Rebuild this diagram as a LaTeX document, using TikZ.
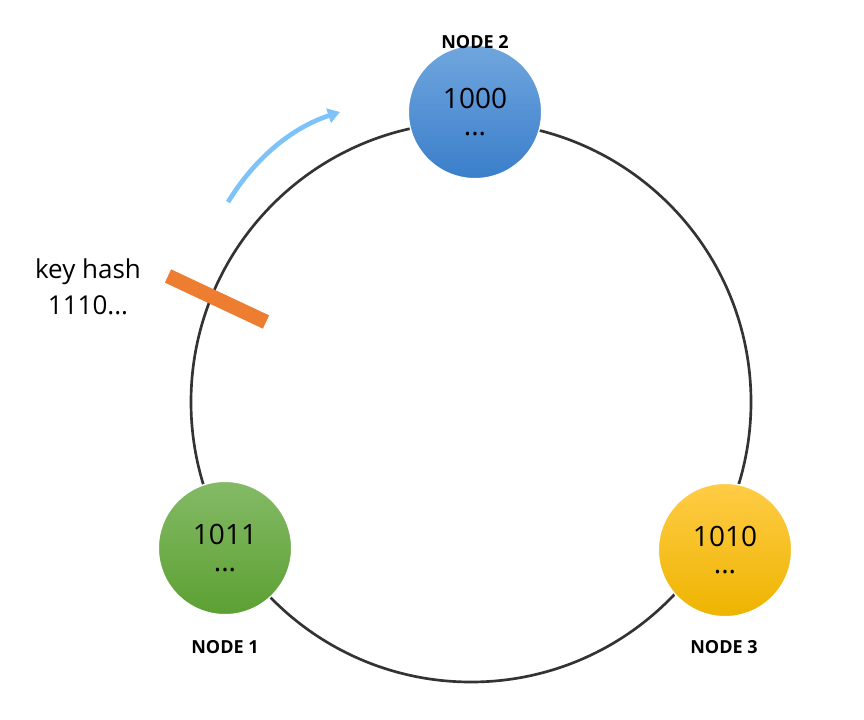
\documentclass[tikz,border=0pt]{standalone}
\usepackage{fontspec}
\setmainfont{Open Sans}
\usetikzlibrary{arrows.meta}
\definecolor{bT}{RGB}{112,166,222}\definecolor{bB}{RGB}{58,126,202}
\definecolor{gT}{RGB}{132,186,102}\definecolor{gB}{RGB}{92,160,50}
\definecolor{yT}{RGB}{255,204,70}\definecolor{yB}{RGB}{238,180,0}
\definecolor{orng}{RGB}{237,125,49}\definecolor{lblue}{RGB}{125,195,250}
\begin{document}
\begin{tikzpicture}[x=0.75pt,y=-0.75pt,
  srv/.style={circle,minimum size=100pt,inner sep=0pt,align=center,font=\fontsize{21}{24}\selectfont,draw=white,line width=1pt},
  lab/.style={font=\bfseries\fontsize{13.5}{16}\selectfont}]
\useasboundingbox (0,0) rectangle (864,720);
\node[circle,draw=black!80,line width=2pt,minimum size=420pt,inner sep=0pt] (ring) at (471,402) {};
\node[srv,top color=bT,bottom color=bB] (n2) at (475,112) {1000\\[-4pt]...};
\node[srv,top color=gT,bottom color=gB] (n1) at (225,548) {1011\\[-4pt]...};
\node[srv,top color=yT,bottom color=yB] (n3) at (725,550) {1010\\[-4pt]...};
\node[lab] (l2) at (475,42) {NODE 2};
\node[lab] (l1) at (225,647) {NODE 1};
\node[lab] (l3) at (724,647) {NODE 3};
\coordinate (k1) at (168,276); \coordinate (k2) at (266,322);
\draw[orng,line width=11pt] (k1) -- (k2);
\node[align=center,font=\fontsize{19.5}{27}\selectfont] (kh) at (88,287) {key hash\\1110...};
\coordinate (a1) at (228,202); \coordinate (a2) at (340,112);
\draw[lblue,line width=3.5pt,-{Triangle[length=9pt,width=11pt]}] (a1) .. controls (260,150) and (300,125) .. (a2);
\end{tikzpicture}
\end{document}
